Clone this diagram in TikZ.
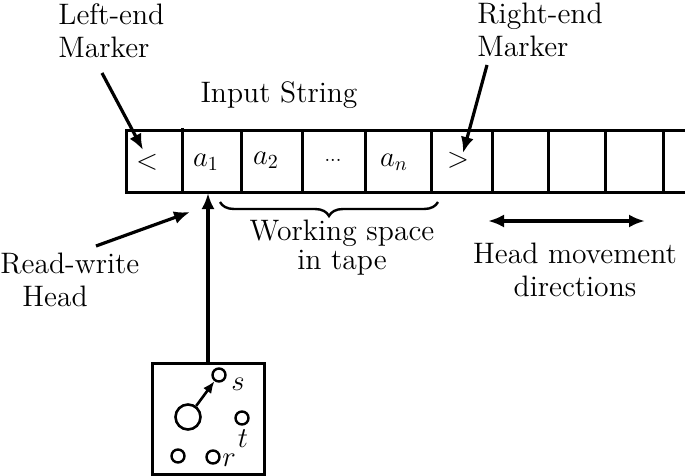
\documentclass[tikz,border=0pt]{standalone}
\usetikzlibrary{arrows.meta,decorations.pathreplacing}
\begin{document}
\begin{tikzpicture}[x=0.5pt,y=-0.5pt,
  lbl/.style={font=\fontsize{14.8}{16.5}\selectfont, inner sep=0},
  sym/.style={font=\fontsize{14.8}{16.5}\selectfont, inner sep=0},
  tapeline/.style={line width=1.5pt},
  arr/.style={line width=1.6pt,-{Latex[length=8pt,width=6.5pt]}},
  dbl/.style={line width=1.6pt,{Latex[length=8pt,width=6.5pt]}-{Latex[length=8pt,width=6.5pt]}},
  st/.style={circle,draw,line width=1.2pt,inner sep=0,minimum size=6.5pt},
  bigst/.style={circle,draw,line width=1.3pt,inner sep=0,minimum size=12.5pt}]
\useasboundingbox (0,0) rectangle (685,476);
% tape
\draw[tapeline] (685,131) -- (126,131) -- (126,192) -- (685,192);
\foreach \xx in {241,302,365,431,492,548,605,663}
  \draw[tapeline] (\xx,131) -- (\xx,192);
\draw[tapeline] (182,128) -- (182,194);
% tape symbols
\node[sym] (lt) at (147,162) {$<$};
\node[sym] (a1) at (206,162) {$a_1$};
\node[sym] (a2) at (266,160) {$a_2$};
\node[inner sep=0,font=\fontsize{10}{12}\selectfont,anchor=base] (dots) at (333,162) {...};
\node[sym] (an) at (394,162) {$a_n$};
\node[sym] (gt) at (458,160) {$>$};
% labels
\node[lbl,align=left,anchor=north west] (lem) at (58,3) {Left-end\\Marker};
\node[lbl,align=left,anchor=north west] (rem) at (477,3) {Right-end\\Marker};
\node[lbl,anchor=base] (inp) at (279,103) {Input String};
\node[lbl,align=left,anchor=north west] (rwh) at (0,253) {Read-write\\\hspace*{11pt}Head};
\node[lbl,align=center,anchor=north] (ws) at (342,220) {Working space\\[-2pt]in tape};
\node[lbl,align=center,anchor=north] (hmd) at (575,243) {Head movement\\directions};
% arrows
\coordinate (lemS) at (102,73);
\coordinate (lemT) at (143,150);
\coordinate (remS) at (487,65);
\coordinate (remT) at (463,153);
\coordinate (rwS) at (96,246);
\coordinate (rwT) at (190,212);
\coordinate (hmL) at (488,221);
\coordinate (hmR) at (645,221);
\coordinate (headtip) at (208,193);
\coordinate (brL) at (220,202);
\coordinate (brR) at (438,202);
\draw[arr] (lemS) -- (lemT);
\draw[arr] (remS) -- (remT);
\draw[arr] (rwS) -- (rwT);
\draw[dbl] (hmL) -- (hmR);
\draw[line width=1.2pt,decorate,decoration={brace,mirror,amplitude=7pt}] (brL) -- (brR);
% control unit
\node[draw,line width=1.5pt,minimum width=56pt,minimum height=55.5pt,inner sep=0] (ctrl) at (208,418.5) {};
\draw[arr] (ctrl.north) -- (headtip);
\node[bigst] (q0) at (188,417) {};
\node[st] (qs) at (219,375) {};
\node[st] (qt) at (242,418) {};
\node[st] (q1) at (178,456) {};
\node[st] (q2) at (213,457) {};
\draw[line width=1.3pt,-{Latex[length=6pt,width=5pt]}] (q0) -- (qs);
\node[sym] (ls) at (238,384) {$s$};
\node[sym] (lt2) at (243,439) {$t$};
\node[sym] (lr) at (229,460) {$r$};
\end{tikzpicture}
\end{document}
